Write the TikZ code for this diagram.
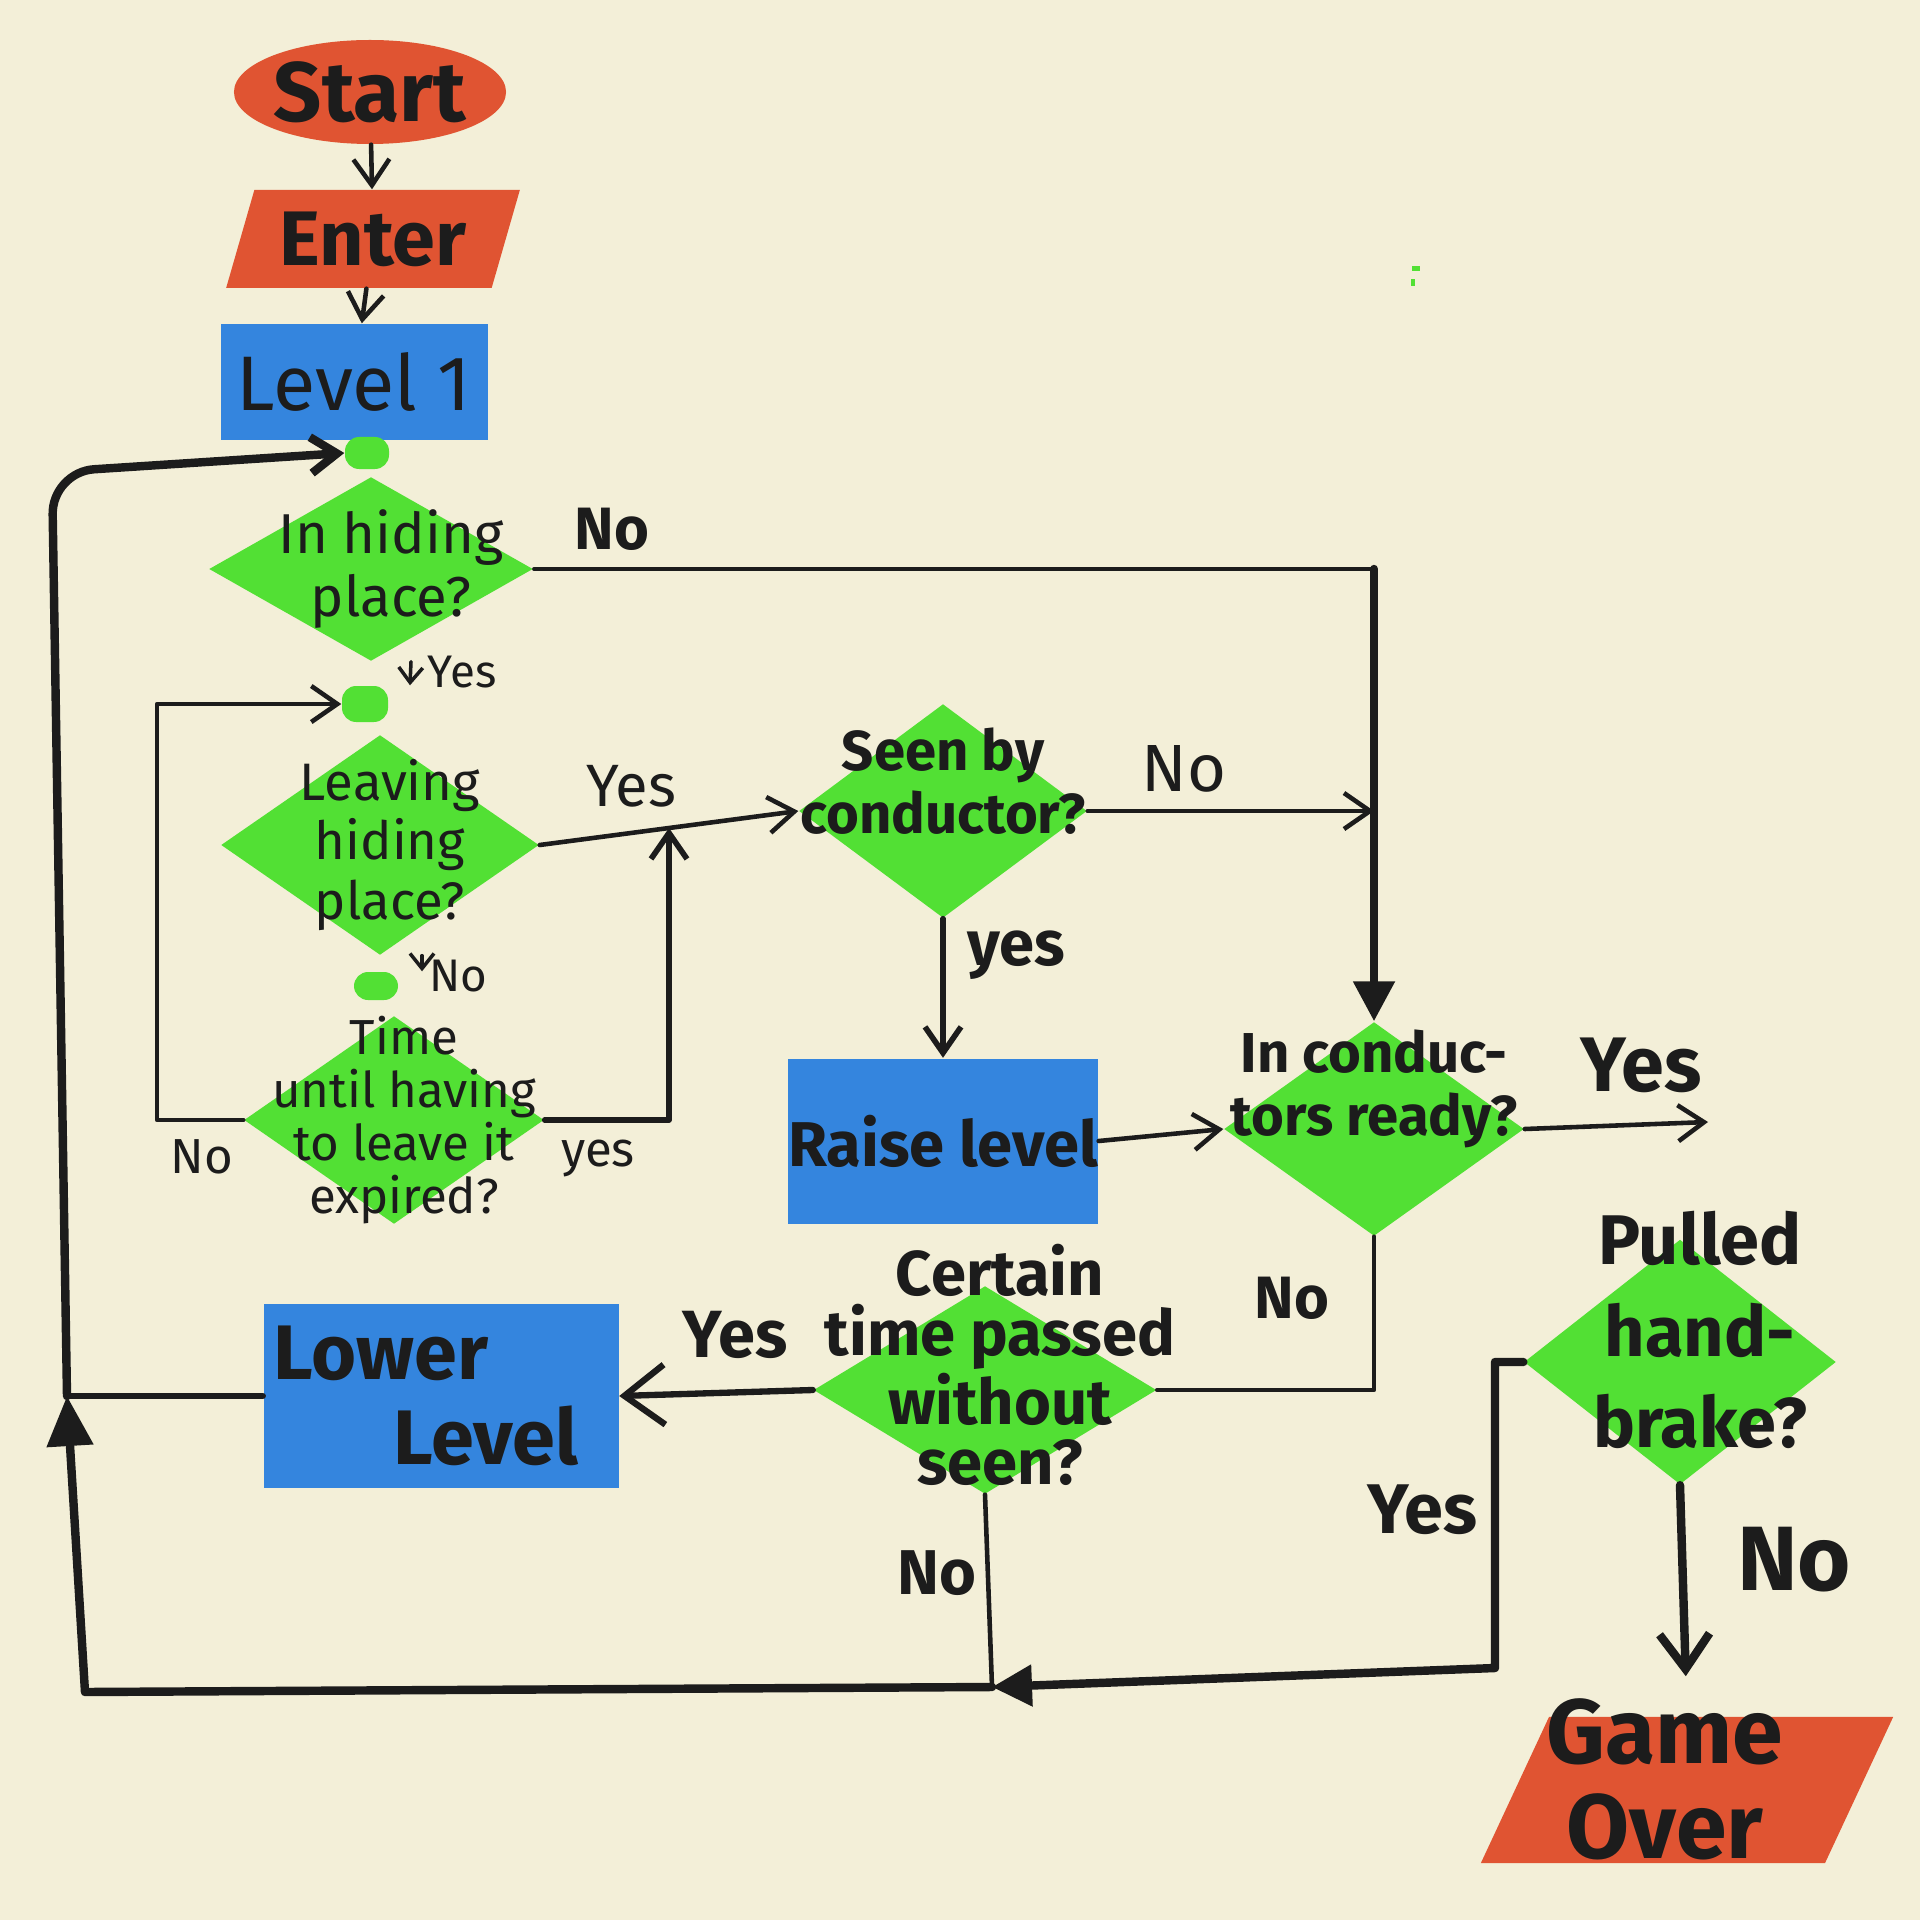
\documentclass[tikz,border=0pt]{standalone}
\usepackage{fontspec}
\setmainfont{Fira Sans}
\usepackage{tikz}
\usetikzlibrary{arrows.meta, calc, shapes.geometric}
\definecolor{paper}{RGB}{243,239,216}
\definecolor{markred}{RGB}{224,84,50}
\definecolor{markblue}{RGB}{52,133,222}
\definecolor{markgreen}{RGB}{82,224,52}
\definecolor{ink}{RGB}{28,28,28}
\newcommand{\penfont}[2]{\fontsize{#1}{#2}\selectfont}

\begin{document}
\begin{tikzpicture}[>={Straight Barb[length=2.6mm,width=3.6mm]}, line cap=round, line join=round,
  flow/.style={draw=ink, line width=1.3pt},
  heavy/.style={draw=ink, line width=2.4pt},
  tick/.style={draw=ink, line width=1pt, -{Straight Barb[length=1.5mm,width=2.4mm]}},
  terminal/.style={ellipse, fill=markred, inner sep=0pt},
  inout/.style={trapezium, fill=markred},
  process/.style={rectangle, fill=markblue, inner sep=0pt},
  decision/.style={diamond, fill=markgreen, inner sep=0pt},
  joint/.style={rectangle, rounded corners=4pt, fill=markgreen, minimum width=0.44cm, minimum height=0.32cm, inner sep=0pt},
  handtext/.style={text=ink, align=center, inner sep=1pt},
  answer/.style={text=ink, inner sep=1pt}]

\useasboundingbox (0,0) rectangle (19.2,-19.2);
\fill[paper] (0,0) rectangle (19.2,-19.2);

% main column
\node[terminal, minimum width=2.27cm, minimum height=1.04cm, text=ink, font=\penfont{24}{26}\bfseries] (start) at (3.70,-0.92) {Start};
\node[inout, trapezium left angle=68, trapezium right angle=112, trapezium stretches=true, inner sep=0pt, minimum width=2.94cm, minimum height=0.98cm, text=ink, font=\penfont{22}{24}\bfseries] (enter) at (3.73,-2.39) {Enter};
\node[process, minimum width=2.67cm, minimum height=1.16cm, text=ink, font=\penfont{22}{24}] (level1) at (3.54,-3.82) {Level 1};
\node[joint] (dot1) at (3.67,-4.53) {};
\node[decision, minimum width=3.24cm, minimum height=1.84cm] (hide) at (3.71,-5.69) {};
\node[handtext, font=\penfont{16}{18}] (hidetext) at ([xshift=0.2cm]hide) {In hiding\\place?};
\node[joint, minimum width=0.46cm, minimum height=0.36cm] (dot2) at (3.65,-7.04) {};
\node[decision, minimum width=3.18cm, minimum height=2.20cm] (leave) at (3.80,-8.45) {};
\node[handtext, font=\penfont{15}{17}] (leavetext) at ([xshift=0.1cm]leave) {Leaving\\hiding\\place?};
\node[joint, minimum height=0.28cm] (dot3) at (3.76,-9.86) {};
\node[decision, minimum width=3.00cm, minimum height=2.08cm] (timeup) at (3.94,-11.20) {};
\node[handtext, font=\penfont{14}{15}] (timeuptext) at ([xshift=0.1cm]timeup) {Time\\until having\\to leave it\\expired?};

% right part
\node[decision, minimum width=2.88cm, minimum height=2.14cm] (seen) at (9.43,-8.11) {};
\node[handtext, font=\penfont{16}{18}\bfseries] (seentext) at ([yshift=0.3cm]seen) {Seen by\\conductor?};
\node[process, minimum width=2.94cm, minimum height=1.65cm, text=ink, font=\penfont{18}{20}\bfseries] (raise) at (9.43,-11.41) {Raise level};
\node[decision, minimum width=3.00cm, minimum height=2.14cm] (ready) at (13.74,-11.29) {};
\node[handtext, font=\penfont{16}{18}\bfseries] (readytext) at ([yshift=0.4cm]ready) {In conduc-\\tors ready?};
\node[decision, minimum width=3.43cm, minimum height=2.08cm] (certain) at (9.85,-13.90) {};
\node[handtext, font=\penfont{18}{17}\bfseries] (certaintext) at ([xshift=0.15cm, yshift=0.25cm]certain) {Certain\\time passed\\without\\seen?};
\node[process, minimum width=3.55cm, minimum height=1.84cm, text=ink, align=left, font=\penfont{22}{24}\bfseries] (lower) at (4.41,-13.96) {Lower\hspace*{1.2cm}\\\hspace*{1.2cm}Level};
\node[decision, minimum width=3.12cm, minimum height=2.45cm] (brake) at (16.80,-13.62) {};
\node[handtext, font=\penfont{20}{26}\bfseries] (braketext) at (17.0,-13.30) {Pulled\\hand-\\brake?};
\node[inout, trapezium left angle=65, trapezium right angle=115, inner xsep=1.38cm, inner ysep=0.52cm] (gameover) at (16.87,-17.90) {\strut};
\node[handtext, font=\penfont{26}{27}\bfseries] (gameovertext) at (16.65,-17.79) {Game\\Over};

% answers
\node[answer, font=\penfont{17}{17}\bfseries] (nohide) at (6.12,-5.29) {No};
\node[answer, font=\penfont{13}{13}] (yeshide) at (4.62,-6.72) {Yes};
\node[answer, font=\penfont{17}{17}] (yesleave) at (6.31,-7.86) {Yes};
\node[answer, font=\penfont{13}{13}] (noleave) at (4.58,-9.76) {No};
\node[answer, font=\penfont{14}{14}] (notime) at (2.02,-11.57) {No};
\node[answer, font=\penfont{14}{14}] (yestime) at (5.98,-11.58) {yes};
\node[answer, font=\penfont{19}{19}] (noseen) at (11.84,-7.69) {No};
\node[answer, font=\penfont{18}{18}\bfseries] (yesseen) at (10.16,-9.55) {yes};
\node[answer, font=\penfont{22}{22}\bfseries] (yesready) at (16.41,-10.65) {Yes};
\node[answer, font=\penfont{17}{17}\bfseries] (noready) at (12.92,-12.98) {No};
\node[answer, font=\penfont{19}{19}\bfseries] (yescertain) at (7.35,-13.35) {Yes};
\node[answer, font=\penfont{18}{18}\bfseries] (nocertain) at (9.37,-15.73) {No};
\node[answer, font=\penfont{20}{20}\bfseries] (yesbrake) at (14.22,-15.10) {Yes};
\node[answer, font=\penfont{26}{26}\bfseries] (nobrake) at (17.94,-15.60) {No};

% helper points
\coordinate (nocorner) at (hide.east -| ready.north);
\coordinate (yesjoin) at ($(leave.east)!0.5!(seen.west)$);
\coordinate (noleft) at (1.57,-11.20);
\coordinate (readyout) at (17.08,-11.22);
\coordinate (nojoin) at (9.92,-16.87);
\coordinate (brakecorner) at (14.95,-16.68);
\coordinate (loopBL) at (0.85,-16.92);
\coordinate (lowerjoin) at (0.67,-13.96);
\coordinate (loopTL) at (0.52,-4.72);

% connectors
\draw[flow, ->] (start) -- (enter);
\draw[flow, ->] (enter) -- (level1);
\draw[tick] ([xshift=0.4cm]hide.south) -- ([xshift=0.45cm]dot2.north);
\draw[tick] ([xshift=0.42cm]leave.south) -- ([xshift=0.46cm]dot3.north);
\draw[flow, line width=0.9pt] (hide.east) -- (nocorner);
\draw[heavy, -{Triangle[length=4mm,width=4mm]}] (nocorner) -- (ready.north);
\draw[flow, ->] (leave.east) -- (seen.west);
\draw[flow, line width=1.6pt, ->] (timeup.east) -| (yesjoin);
\draw[flow, ->] (timeup.west) -- (noleft) |- (dot2.west);
\draw[flow, ->] (seen.east) -- (seen.east -| ready.north);
\draw[flow, line width=1.6pt, ->] (seen.south) -- (raise.north);
\draw[flow, ->] (raise.east) -- (ready.west);
\draw[flow, ->] (ready.east) -- (readyout);
\draw[flow] (ready.south) |- (certain.east);
\draw[flow, line width=1.8pt, -{Straight Barb[length=4mm,width=6mm]}] (certain.west) -- (lower.east);
\draw[flow] (certain.south) -- (nojoin);
\draw[heavy, -{Triangle[length=4mm,width=4mm]}] (brake.west) -- (brake.west -| brakecorner) -- (brakecorner) -- (nojoin);
\draw[heavy, -{Triangle[length=5mm,width=4.5mm]}] (nojoin) -- (loopBL) -- (lowerjoin);
\draw[heavy, rounded corners=12pt, ->] (lowerjoin) -- (loopTL) -- (dot1.west);
\draw[flow, line width=1.8pt] (lower.west) -- (lowerjoin);
\draw[heavy, -{Straight Barb[length=3.5mm,width=5mm]}, shorten >=0.4cm] (brake.south) -- (gameover.north);

% stray speck
\fill[markgreen] (14.12,-2.66) rectangle (14.20,-2.71);
\fill[markgreen] (14.11,-2.79) rectangle (14.15,-2.86);

\end{tikzpicture}
\end{document}
